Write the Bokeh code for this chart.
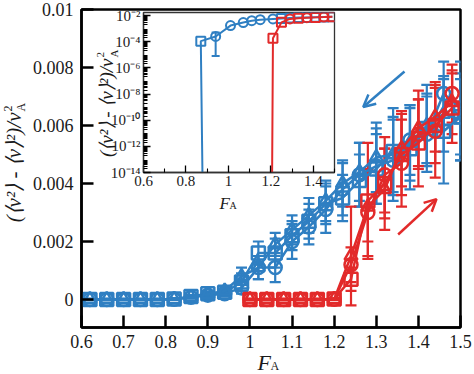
import numpy as np
from bokeh.plotting import figure
from bokeh.models import (Range1d, FixedTicker, ColumnDataSource, Whisker, TeeHead,
                          Arrow, OpenHead, Label, GridBox)
from bokeh.embed import file_html
from bokeh.resources import INLINE

# ---------------- main-panel data ----------------
F_blue = [0.62, 0.66, 0.70, 0.74, 0.78, 0.82, 0.86, 0.90, 0.94, 0.98, 1.02, 1.06,
          1.10, 1.14, 1.18, 1.22, 1.26, 1.30, 1.34, 1.38, 1.42, 1.46, 1.50]
blue_sq = [0, 0, 0, 0, 0, 0.00002, 0.0001, 0.0002, 0.00025, 0.0006, 0.0016, 0.0016,
           0.0022, 0.0027, 0.0033, 0.0035, 0.0041, 0.0045, 0.0051, 0.0052, 0.0059, 0.0058, 0.0063]
blue_sq_err = [0.00002, 0.00002, 0.00002, 0.00002, 0.00002, 0.00003, 0.00005, 0.00008, 0.0001,
               0.0003, 0.0004, 0.0005, 0.0005, 0.0006, 0.0007, 0.0008, 0.0009, 0.0012, 0.0015,
               0.0014, 0.0012, 0.0018, 0.0015]
blue_ci = [0, 0, 0, 0, 0, 0.00001, 0.00008, 0.00015, 0.0002, 0.0004, 0.0011, 0.0011,
           0.0020, 0.0025, 0.0031, 0.0038, 0.0043, 0.0046, 0.0048, 0.0055, 0.0057, 0.0071, 0.0066]
blue_ci_err = [0.00002, 0.00002, 0.00002, 0.00002, 0.00002, 0.00002, 0.00004, 0.00006, 0.0001,
               0.0002, 0.0004, 0.0005, 0.0006, 0.0006, 0.0008, 0.0009, 0.0011, 0.0013, 0.0014,
               0.0012, 0.0013, 0.0011, 0.0016]
blue_tr = [0, 0, 0, 0, 0, 0.00001, 0.00008, 0.00018, 0.0003, 0.0008, 0.0011, 0.0019,
           0.0024, 0.0029, 0.0034, 0.0040, 0.0044, 0.0049, 0.0050, 0.0054, 0.0060, 0.0064, 0.0062]
blue_tr_err = [0.00002, 0.00002, 0.00002, 0.00002, 0.00002, 0.00002, 0.00004, 0.00006, 0.0001,
               0.0003, 0.0004, 0.0004, 0.0005, 0.0006, 0.0007, 0.0008, 0.0010, 0.0012, 0.0013,
               0.0013, 0.0014, 0.0013, 0.0014]

F_red = [1.00, 1.04, 1.08, 1.12, 1.16, 1.20, 1.24, 1.28, 1.32, 1.36, 1.40, 1.44, 1.48]
red_sq = [0, 0, 0, 0, 0, 0.00002, 0.0007, 0.0034, 0.0040, 0.0050, 0.0054, 0.0060, 0.0066]
red_sq_err = [0.00002, 0.00002, 0.00002, 0.00002, 0.00002, 0.00002, 0.0004, 0.0020, 0.0012,
              0.0014, 0.0015, 0.0013, 0.0012]
red_ci = [0, 0, 0, 0, 0, 0.00001, 0.0012, 0.0030, 0.0043, 0.0047, 0.0057, 0.0058, 0.0071]
red_ci_err = [0.00002, 0.00002, 0.00002, 0.00002, 0.00002, 0.00002, 0.0006, 0.0015, 0.0013,
              0.0015, 0.0012, 0.0016, 0.0010]
red_tr = [0, 0, 0, 0, 0, 0.00001, 0.0015, 0.0032, 0.0038, 0.0052, 0.0059, 0.0063, 0.0068]
red_tr_err = [0.00002, 0.00002, 0.00002, 0.00002, 0.00002, 0.00002, 0.0017, 0.0012, 0.0014,
              0.0013, 0.0013, 0.0012, 0.0011]

arrow_blue_x = [1.367, 1.269]
arrow_blue_y = [0.00786, 0.00664]
arrow_red_x = [1.352, 1.443]
arrow_red_y = [0.00224, 0.00346]

x_ticks = [0.6, 0.7, 0.8, 0.9, 1.0, 1.1, 1.2, 1.3, 1.4, 1.5]
x_tick_labels = ["0.6", "0.7", "0.8", "0.9", "1", "1.1", "1.2", "1.3", "1.4", "1.5"]
y_ticks = [0, 0.002, 0.004, 0.006, 0.008, 0.01]
y_tick_labels = ["0", "0.002", "0.004", "0.006", "0.008", "0.01"]

# ---------------- inset data ----------------
F_in_blue = [0.89, 0.87, 0.94, 1.01, 1.07, 1.11, 1.15, 1.21, 1.25, 1.29, 1.33, 1.37, 1.41, 1.45, 1.49]
V_in_blue = [0, 1.1e-4, 2.5e-4, 1.7e-3, 2.9e-3, 4.0e-3, 4.8e-3, 5.5e-3, 6.0e-3, 6.5e-3,
             6.9e-3, 7.2e-3, 7.5e-3, 7.8e-3, 8.0e-3]
in_blue_marker = ["", "square", "circle", "circle", "circle", "circle", "circle", "circle",
                  "square", "square", "square", "square", "square", "square", "square"]
in_err_F = [0.94]
in_err_lo = [8e-6]
in_err_hi = [5e-4]
F_in_red = [1.20, 1.21, 1.25, 1.29, 1.33, 1.37, 1.41, 1.45, 1.49]
V_in_red = [0, 1.8e-4, 3.0e-3, 5.5e-3, 6.3e-3, 6.8e-3, 7.2e-3, 7.6e-3, 8.2e-3]
in_red_marker = ["", "square", "square", "circle", "square", "circle", "square", "circle", "square"]

inset_x_ticks = [0.6, 0.8, 1.0, 1.2, 1.4]
inset_x_tick_labels = ["0.6", "0.8", "1", "1.2", "1.4"]
inset_x_minor = [0.7, 0.9, 1.1, 1.3, 1.5]
inset_y_ticks = [1e-14, 1e-12, 1e-10, 1e-8, 1e-6, 1e-4, 1e-2]
inset_y_tick_labels = ["10⁻¹⁴", "10⁻¹²", "10⁻¹⁰", "10⁻⁸", "10⁻⁶", "10⁻⁴", "10⁻²"]

# ---------------- styling ----------------
BLUE = "#2f7fc2"
RED = "#e22a2a"
FONT = "Liberation Serif"
TXT = "#1a1a1a"

W, H = 474, 374
ML, MR, MT, MB = 81, 14, 9, 47
X0, X1, Y0, Y1 = 0.6, 1.5, -0.000966, 0.01

p = figure(width=W, height=H, output_backend="svg", toolbar_location=None,
           x_range=Range1d(X0, X1), y_range=Range1d(Y0, Y1), frame_align=False,
           min_border_left=ML, min_border_right=MR, min_border_top=MT, min_border_bottom=MB)
p.border_fill_alpha = 0
p.background_fill_alpha = 0
p.grid.visible = False
p.outline_line_color = "black"
p.outline_line_width = 2.5
for ax in (p.xaxis[0], p.yaxis[0]):
    ax.axis_line_width = 2.5
    ax.major_tick_in = 12
    ax.major_tick_out = 0
    ax.major_tick_line_width = 2.5
    ax.minor_tick_line_color = None
    ax.major_label_text_font = FONT
    ax.major_label_text_font_size = "18px"
    ax.major_label_text_color = TXT
p.xaxis.ticker = FixedTicker(ticks=x_ticks)
p.xaxis.major_label_overrides = dict(zip(x_ticks, x_tick_labels))
p.xaxis.major_label_standoff = 7
p.yaxis.ticker = FixedTicker(ticks=y_ticks)
p.yaxis.major_label_overrides = dict(zip(y_ticks, y_tick_labels))
p.yaxis.major_label_standoff = 8


def add_series(fig, F, vals, errs, color, marker, size=13):
    v = np.array(vals, dtype=float)
    e = np.array(errs, dtype=float)
    src = ColumnDataSource(dict(x=F, y=v, lo=v - e, hi=v + e))
    fig.add_layout(Whisker(source=src, base="x", upper="hi", lower="lo", dimension="height",
                           line_color=color, line_width=2.2,
                           upper_head=TeeHead(size=11, line_color=color, line_width=2.2),
                           lower_head=TeeHead(size=11, line_color=color, line_width=2.2)))
    fig.line("x", "y", source=src, line_color=color, line_width=2.5)
    fig.scatter("x", "y", source=src, marker=marker, size=size, line_color=color,
                line_width=2.5, fill_color=None)


for vals, errs, mk in ((blue_sq, blue_sq_err, "square"), (blue_ci, blue_ci_err, "circle"),
                       (blue_tr, blue_tr_err, "triangle")):
    add_series(p, F_blue, vals, errs, BLUE, mk)
for vals, errs, mk in ((red_sq, red_sq_err, "square"), (red_ci, red_ci_err, "circle"),
                       (red_tr, red_tr_err, "triangle")):
    add_series(p, F_red, vals, errs, RED, mk)

p.add_layout(Arrow(x_start=arrow_blue_x[0], y_start=arrow_blue_y[0],
                   x_end=arrow_blue_x[1], y_end=arrow_blue_y[1],
                   line_color=BLUE, line_width=2.5,
                   end=OpenHead(size=12, line_color=BLUE, line_width=2.5)))
p.add_layout(Arrow(x_start=arrow_red_x[0], y_start=arrow_red_y[0],
                   x_end=arrow_red_x[1], y_end=arrow_red_y[1],
                   line_color=RED, line_width=2.5,
                   end=OpenHead(size=12, line_color=RED, line_width=2.5)))

# ---------------- inset ----------------
IFW, IFH = 191, 160
IML, IMR, IMT, IMB = 70, 6, 12, 34
IY0, IY1 = 1e-14, 10 ** -1.77

ins = figure(frame_width=IFW, frame_height=IFH, output_backend="svg", toolbar_location=None,
             x_range=Range1d(X0, X1), y_range=Range1d(IY0, IY1), y_axis_type="log",
             frame_align=False,
             min_border_left=IML, min_border_right=IMR, min_border_top=IMT, min_border_bottom=IMB)
ins.margin = (0, 0, 0, 143 - IML)
ins.border_fill_alpha = 0
ins.background_fill_color = "white"
ins.grid.visible = False
ins.outline_line_color = "#333333"
ins.outline_line_width = 1.3
for ax in (ins.xaxis[0], ins.yaxis[0]):
    ax.axis_line_width = 1.3
    ax.axis_line_color = "#333333"
    ax.major_tick_in = 7
    ax.major_tick_out = 0
    ax.minor_tick_in = 4
    ax.minor_tick_out = 0
    ax.major_tick_line_width = 1.3
    ax.minor_tick_line_width = 1.1
    ax.major_label_text_font = FONT
    ax.major_label_text_font_size = "15px"
    ax.major_label_text_color = TXT
ins.xaxis.ticker = FixedTicker(ticks=inset_x_ticks, minor_ticks=inset_x_minor)
ins.xaxis.major_label_overrides = dict(zip(inset_x_ticks, inset_x_tick_labels))
ins.xaxis.major_label_standoff = 3
minor_log = [k * 10.0 ** e for e in range(-14, -1) for k in range(2, 10)]
ins.yaxis.ticker = FixedTicker(ticks=inset_y_ticks, minor_ticks=minor_log)
ins.yaxis.major_label_overrides = dict(zip(inset_y_ticks, inset_y_tick_labels))
ins.yaxis.major_label_standoff = 3

FLOOR = 1e-30  # zero values sit far below the log axis


def add_inset(F, V, markers, color):
    v = np.array(V, dtype=float)
    v = np.where(v > 0, v, FLOOR)
    ins.line(F, v, line_color=color, line_width=2)
    for mk in ("square", "circle"):
        idx = [i for i, m in enumerate(markers) if m == mk]
        ins.scatter([F[i] for i in idx], [v[i] for i in idx], marker=mk, size=9,
                    line_color=color, line_width=2, fill_color=None)


ins.add_layout(Whisker(source=ColumnDataSource(dict(x=in_err_F, lo=in_err_lo, hi=in_err_hi)),
                       base="x", upper="hi", lower="lo", dimension="height",
                       line_color=BLUE, line_width=2,
                       upper_head=TeeHead(size=8, line_color=BLUE, line_width=2),
                       lower_head=TeeHead(size=8, line_color=BLUE, line_width=2)))
add_inset(F_in_blue, V_in_blue, in_blue_marker, BLUE)
add_inset(F_in_red, V_in_red, in_red_marker, RED)

# ---------------- overlay for axis titles (page pixel coordinates) ----------------
ov = figure(width=W, height=H, output_backend="svg", toolbar_location=None,
            x_range=Range1d(0, W), y_range=Range1d(0, H), frame_align=False,
            x_axis_location=None, y_axis_location=None, min_border=0,
            min_border_left=0, min_border_right=0, min_border_top=0, min_border_bottom=0)
ov.outline_line_color = None
ov.border_fill_alpha = 0
ov.background_fill_alpha = 0
ov.grid.visible = False


def add_label(px, py, text, size, style="italic", align="left", baseline="alphabetic", angle=0.0):
    ov.add_layout(Label(x=px, y=H - py, text=text, text_font=FONT, text_font_size=size,
                        text_font_style=style, text_align=align, text_baseline=baseline,
                        text_color=TXT, angle=angle))


ylab = "(⟨v²⟩ - ⟨v⟩²)/v"
# main axes titles
add_label(257, 362, "F", "22px")
add_label(270, 365, "A", "12px", style="normal")
add_label(13, 112, ylab, "21px", align="right", baseline="middle", angle=np.pi / 2)
add_label(7, 111, "2", "12px", style="normal", baseline="middle", angle=np.pi / 2)
add_label(20, 111, "A", "12px", style="normal", baseline="middle", angle=np.pi / 2)
# inset axes titles
add_label(219, 203, "F", "17px")
add_label(229, 205, "A", "10px", style="normal")
add_label(106, 58, ylab, "19px", align="right", baseline="middle", angle=np.pi / 2)
add_label(100, 57, "2", "11px", style="normal", baseline="middle", angle=np.pi / 2)
add_label(113, 57, "A", "11px", style="normal", baseline="middle", angle=np.pi / 2)

layout = GridBox(children=[(p, 0, 0), (ins, 0, 0), (ov, 0, 0)])
open("out.html", "w").write(file_html(layout, INLINE))
